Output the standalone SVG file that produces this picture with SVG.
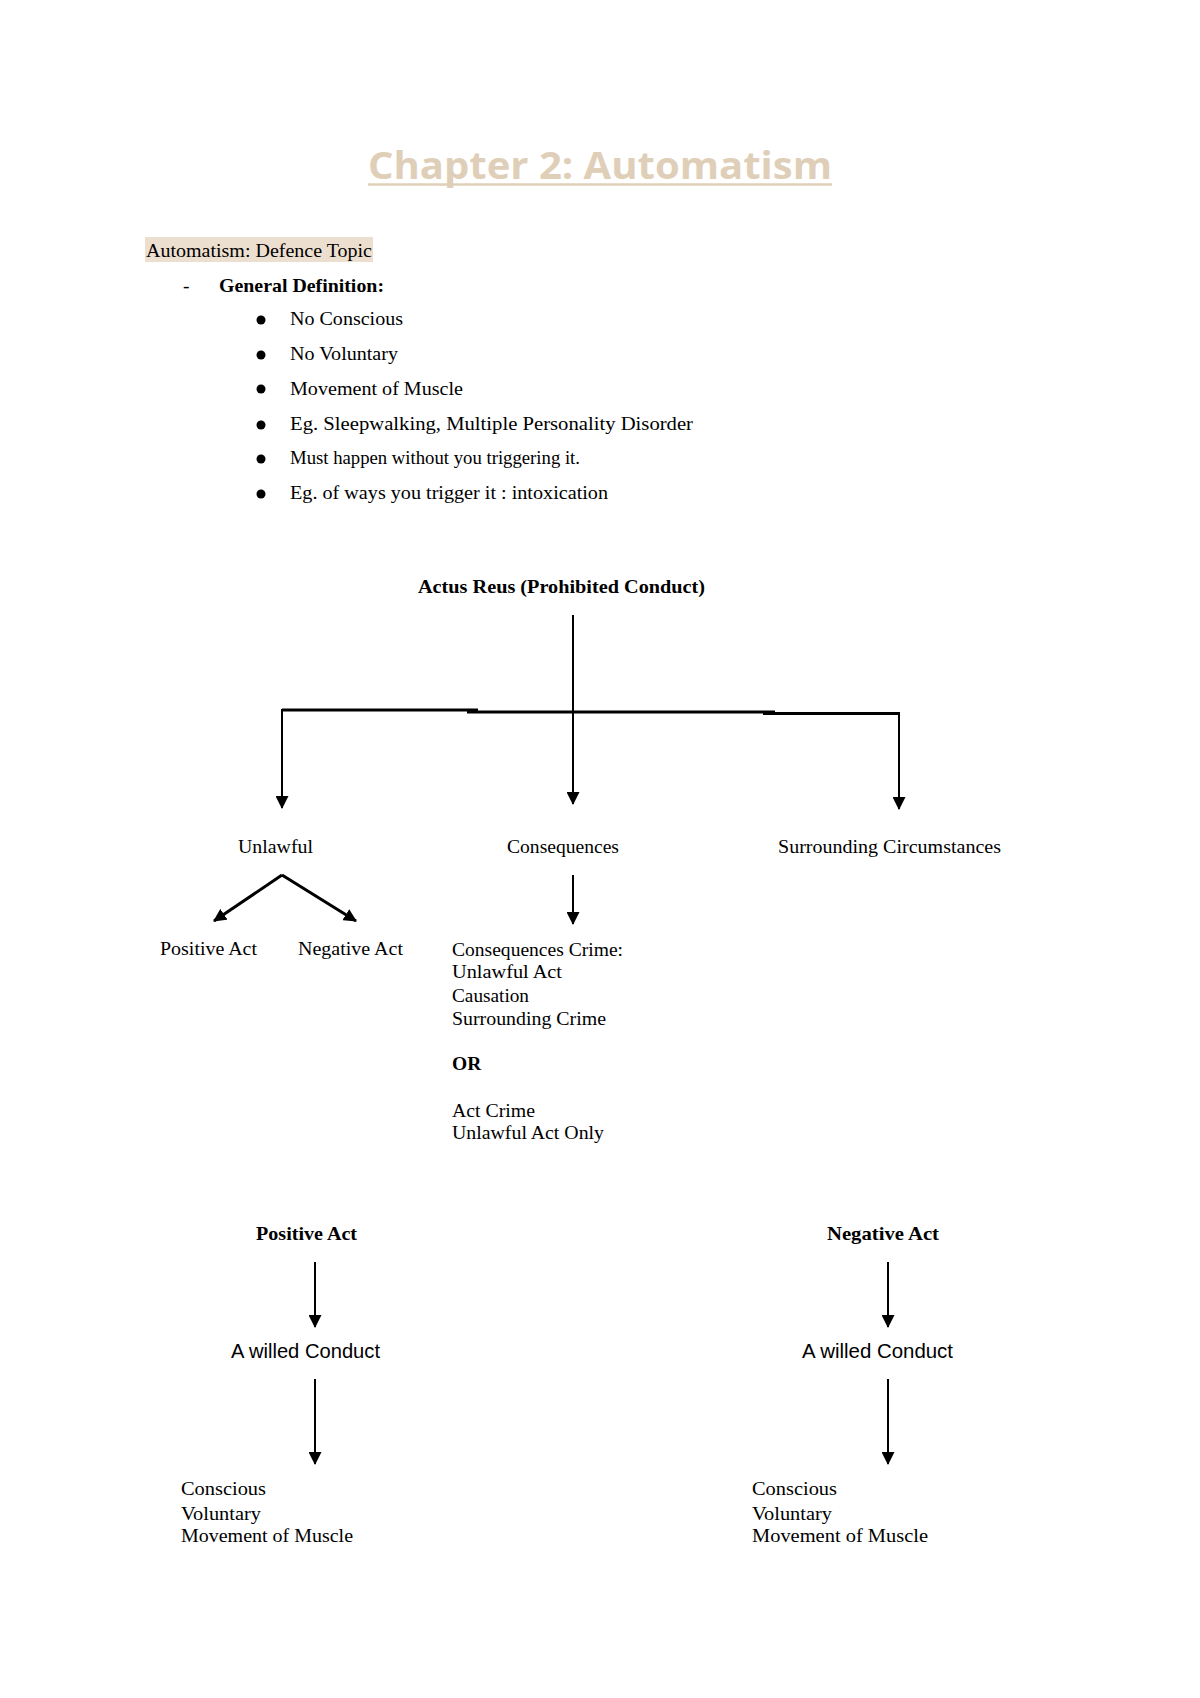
<svg xmlns="http://www.w3.org/2000/svg" width="1200" height="1698" viewBox="0 0 1200 1698">
<style>
.t{font-family:"Liberation Serif","Times New Roman",serif;font-size:19.5px;fill:#000}
.b{font-weight:bold}
.s{font-family:"Liberation Sans",Arial,sans-serif;font-size:20px;fill:#000}
.title{font-family:"Open Sans","Noto Sans",sans-serif;font-weight:700;font-size:37px;fill:#dfcfb8}
.ln{stroke:#000;stroke-width:2;fill:none}
.lnt{stroke:#000;stroke-width:3;fill:none}
</style>
<defs>
<marker id="ah" viewBox="0 0 13 13" refX="12" refY="6.5" markerWidth="13" markerHeight="13" markerUnits="userSpaceOnUse" orient="auto">
<path d="M0,0 L13,6.5 L0,13 z" fill="#000"/>
</marker>
</defs>
<rect width="1200" height="1698" fill="#fff"/>

<g id="title">
<text class="title" x="368" y="179" textLength="464" lengthAdjust="spacingAndGlyphs">Chapter 2: Automatism</text>
<line x1="368" y1="184.5" x2="832" y2="184.5" stroke="#dfcfb8" stroke-width="2.5"/>
</g>

<g id="intro">
<rect x="145" y="237" width="228" height="25" fill="#eddfcf"/>
<text class="t" x="146" y="257" textLength="226" lengthAdjust="spacingAndGlyphs">Automatism: Defence Topic</text>
<text class="t" x="183" y="292">-</text>
<text class="t b" x="219" y="292" textLength="165" lengthAdjust="spacingAndGlyphs">General Definition:</text>
<g fill="#000">
<circle cx="261" cy="320" r="4.5"/>
<circle cx="261" cy="355" r="4.5"/>
<circle cx="261" cy="389" r="4.5"/>
<circle cx="261" cy="425" r="4.5"/>
<circle cx="261" cy="459" r="4.5"/>
<circle cx="261" cy="494" r="4.5"/>
</g>
<text class="t" x="290" y="325" textLength="113" lengthAdjust="spacingAndGlyphs">No Conscious</text>
<text class="t" x="290" y="360" textLength="108" lengthAdjust="spacingAndGlyphs">No Voluntary</text>
<text class="t" x="290" y="395" textLength="173" lengthAdjust="spacingAndGlyphs">Movement of Muscle</text>
<text class="t" x="290" y="430" textLength="403" lengthAdjust="spacingAndGlyphs">Eg. Sleepwalking, Multiple Personality Disorder</text>
<text class="t" x="290" y="464" textLength="290" lengthAdjust="spacingAndGlyphs">Must happen without you triggering it.</text>
<text class="t" x="290" y="499" textLength="318" lengthAdjust="spacingAndGlyphs">Eg. of ways you trigger it : intoxication</text>
</g>

<g id="actus-reus"><text class="t b" x="418" y="593" textLength="287" lengthAdjust="spacingAndGlyphs">Actus Reus (Prohibited Conduct)</text></g>
<g id="unlawful"><text class="t" x="238" y="853" textLength="75" lengthAdjust="spacingAndGlyphs">Unlawful</text></g>
<g id="consequences"><text class="t" x="507" y="853" textLength="112" lengthAdjust="spacingAndGlyphs">Consequences</text></g>
<g id="surrounding"><text class="t" x="778" y="853" textLength="223" lengthAdjust="spacingAndGlyphs">Surrounding Circumstances</text></g>
<g id="positive-act-small"><text class="t" x="160" y="955" textLength="97" lengthAdjust="spacingAndGlyphs">Positive Act</text></g>
<g id="negative-act-small"><text class="t" x="298" y="955" textLength="105" lengthAdjust="spacingAndGlyphs">Negative Act</text></g>
<g id="consequence-details">
<text class="t" x="452" y="956" textLength="171" lengthAdjust="spacingAndGlyphs">Consequences Crime:</text>
<text class="t" x="452" y="978" textLength="110" lengthAdjust="spacingAndGlyphs">Unlawful Act</text>
<text class="t" x="452" y="1002" textLength="77" lengthAdjust="spacingAndGlyphs">Causation</text>
<text class="t" x="452" y="1025" textLength="154" lengthAdjust="spacingAndGlyphs">Surrounding Crime</text>
<text class="t b" x="452" y="1070">OR</text>
<text class="t" x="452" y="1117" textLength="83" lengthAdjust="spacingAndGlyphs">Act Crime</text>
<text class="t" x="452" y="1139" textLength="152" lengthAdjust="spacingAndGlyphs">Unlawful Act Only</text>
</g>

<g id="positive-act"><text class="t b" x="256" y="1240" textLength="101" lengthAdjust="spacingAndGlyphs">Positive Act</text></g>
<g id="willed-left"><text class="s" x="231" y="1358" textLength="149" lengthAdjust="spacingAndGlyphs">A willed Conduct</text></g>
<g id="elements-left">
<text class="t" x="181" y="1495" textLength="85" lengthAdjust="spacingAndGlyphs">Conscious</text>
<text class="t" x="181" y="1520" textLength="80" lengthAdjust="spacingAndGlyphs">Voluntary</text>
<text class="t" x="181" y="1542" textLength="172" lengthAdjust="spacingAndGlyphs">Movement of Muscle</text>
</g>
<g id="negative-act"><text class="t b" x="827" y="1240" textLength="112" lengthAdjust="spacingAndGlyphs">Negative Act</text></g>
<g id="willed-right"><text class="s" x="802" y="1358" textLength="151" lengthAdjust="spacingAndGlyphs">A willed Conduct</text></g>
<g id="elements-right">
<text class="t" x="752" y="1495" textLength="85" lengthAdjust="spacingAndGlyphs">Conscious</text>
<text class="t" x="752" y="1520" textLength="80" lengthAdjust="spacingAndGlyphs">Voluntary</text>
<text class="t" x="752" y="1542" textLength="176" lengthAdjust="spacingAndGlyphs">Movement of Muscle</text>
</g>

<g id="connectors">
<line class="ln" x1="573" y1="615" x2="573" y2="804" marker-end="url(#ah)"/>
<line class="lnt" x1="282" y1="710" x2="478" y2="710"/>
<line class="lnt" x1="467" y1="712" x2="775" y2="712"/>
<line class="lnt" x1="763" y1="713.5" x2="900" y2="713.5"/>
<line class="ln" x1="282" y1="709" x2="282" y2="808" marker-end="url(#ah)"/>
<line class="ln" x1="899" y1="712" x2="899" y2="809" marker-end="url(#ah)"/>
<line class="lnt" x1="282" y1="875" x2="214" y2="921" marker-end="url(#ah)"/>
<line class="lnt" x1="282" y1="875" x2="356" y2="921" marker-end="url(#ah)"/>
<line class="ln" x1="573" y1="875" x2="573" y2="924" marker-end="url(#ah)"/>
<line class="ln" x1="315" y1="1262" x2="315" y2="1327" marker-end="url(#ah)"/>
<line class="ln" x1="315" y1="1379" x2="315" y2="1464" marker-end="url(#ah)"/>
<line class="ln" x1="888" y1="1262" x2="888" y2="1327" marker-end="url(#ah)"/>
<line class="ln" x1="888" y1="1379" x2="888" y2="1464" marker-end="url(#ah)"/>
</g>
</svg>
